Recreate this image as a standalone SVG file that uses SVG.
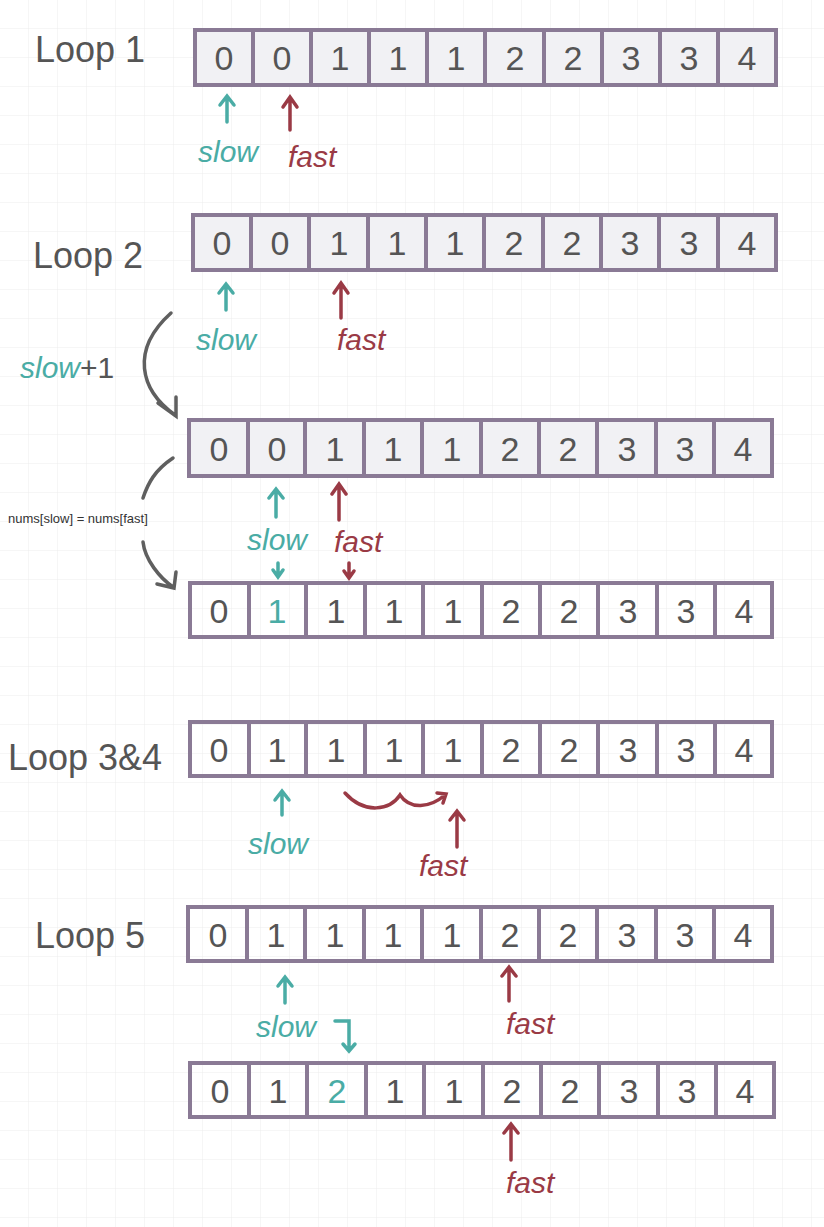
<svg xmlns="http://www.w3.org/2000/svg" width="824" height="1227" viewBox="0 0 824 1227">
<style>
.t{font-family:"Comic Neue","Liberation Sans",sans-serif}
.d{font-family:"Liberation Sans",sans-serif;font-size:34px;fill:#555;text-anchor:middle}
.lbl{font-family:"Liberation Sans",sans-serif;font-size:36px;fill:#555}
.sl{font-family:"Liberation Sans",sans-serif;font-size:30px;fill:#4aaca5;font-style:italic}
.fa{font-family:"Liberation Sans",sans-serif;font-size:30px;fill:#9a3a45;font-style:italic}
.box{fill:none;stroke:#8a7a95;stroke-width:4}
.sh{fill:#f1f1f4}
.tl{stroke:#4aaca5;stroke-width:3.5;fill:none;stroke-linecap:round}
.rd{stroke:#9a3a45;stroke-width:3.5;fill:none;stroke-linecap:round}
.gy{stroke:#5f5f5f;stroke-width:3.5;fill:none;stroke-linecap:round}
</style>
<defs>
<pattern id="g" width="29" height="29" patternUnits="userSpaceOnUse"><path d="M29 0V29H0" fill="none" stroke="#ececec" stroke-width="1"/></pattern>
</defs>
<rect width="824" height="1227" fill="#fff"/>
<rect width="824" height="1227" fill="url(#g)"/>
<g id="labels">
<text class="lbl" x="35" y="62">Loop 1</text>
<text class="lbl" x="33" y="268">Loop 2</text>
<text class="lbl" x="8" y="770">Loop 3&amp;4</text>
<text class="lbl" x="35" y="948">Loop 5</text>
</g>
<g id="row1"><rect class="sh" x="195" y="30" width="581" height="55"/><rect class="box" x="195" y="30" width="581" height="55"/>
<path class="box" d="M253 30V85M311 30V85M369 30V85M427 30V85M485 30V85M544 30V85M602 30V85M660 30V85M718 30V85"/>
<g class="d"><text x="224" y="70">0</text><text x="282" y="70">0</text><text x="340" y="70">1</text><text x="398" y="70">1</text><text x="456" y="70">1</text><text x="515" y="70">2</text><text x="573" y="70">2</text><text x="631" y="70">3</text><text x="689" y="70">3</text><text x="747" y="70">4</text></g></g>
<g id="row2"><rect class="sh" x="193" y="215" width="583" height="55"/><rect class="box" x="193" y="215" width="583" height="55"/>
<path class="box" d="M251 215V270M309 215V270M368 215V270M426 215V270M484 215V270M543 215V270M601 215V270M659 215V270M718 215V270"/>
<g class="d"><text x="222" y="255">0</text><text x="280" y="255">0</text><text x="339" y="255">1</text><text x="397" y="255">1</text><text x="455" y="255">1</text><text x="514" y="255">2</text><text x="572" y="255">2</text><text x="630" y="255">3</text><text x="689" y="255">3</text><text x="747" y="255">4</text></g></g>
<g id="row3"><rect class="sh" x="189" y="420" width="583" height="56"/><rect class="box" x="189" y="420" width="583" height="56"/>
<path class="box" d="M248 420V476M305 420V476M364 420V476M422 420V476M481 420V476M539 420V476M597 420V476M656 420V476M714 420V476"/>
<g class="d"><text x="219" y="461">0</text><text x="277" y="461">0</text><text x="335" y="461">1</text><text x="393" y="461">1</text><text x="452" y="461">1</text><text x="510" y="461">2</text><text x="568" y="461">2</text><text x="627" y="461">3</text><text x="685" y="461">3</text><text x="743" y="461">4</text></g></g>
<g id="row4"><rect class="box" x="190" y="583" width="582" height="54"/>
<path class="box" d="M249 583V637M306 583V637M365 583V637M423 583V637M482 583V637M540 583V637M598 583V637M657 583V637M715 583V637"/>
<g class="d"><text x="219" y="623">0</text><text x="277" y="623" fill="#4aaca5">1</text><text x="336" y="623">1</text><text x="394" y="623">1</text><text x="453" y="623">1</text><text x="511" y="623">2</text><text x="569" y="623">2</text><text x="628" y="623">3</text><text x="686" y="623">3</text><text x="744" y="623">4</text></g></g>
<g id="row5"><rect class="box" x="190" y="722" width="582" height="54"/>
<path class="box" d="M249 722V776M306 722V776M365 722V776M423 722V776M482 722V776M540 722V776M598 722V776M657 722V776M715 722V776"/>
<g class="d"><text x="219" y="762">0</text><text x="277" y="762">1</text><text x="336" y="762">1</text><text x="394" y="762">1</text><text x="453" y="762">1</text><text x="511" y="762">2</text><text x="569" y="762">2</text><text x="628" y="762">3</text><text x="686" y="762">3</text><text x="744" y="762">4</text></g></g>
<g id="row6"><rect class="box" x="188" y="907" width="584" height="54"/>
<path class="box" d="M247 907V961M305 907V961M364 907V961M422 907V961M481 907V961M539 907V961M597 907V961M656 907V961M714 907V961"/>
<g class="d"><text x="218" y="947">0</text><text x="276" y="947">1</text><text x="335" y="947">1</text><text x="393" y="947">1</text><text x="452" y="947">1</text><text x="510" y="947">2</text><text x="568" y="947">2</text><text x="627" y="947">3</text><text x="685" y="947">3</text><text x="743" y="947">4</text></g></g>
<g id="row7"><rect class="box" x="190" y="1063" width="584" height="54"/>
<path class="box" d="M249 1063V1117M307 1063V1117M366 1063V1117M424 1063V1117M483 1063V1117M541 1063V1117M599 1063V1117M658 1063V1117M716 1063V1117"/>
<g class="d"><text x="220" y="1103">0</text><text x="278" y="1103">1</text><text x="337" y="1103" fill="#4aaca5">2</text><text x="395" y="1103">1</text><text x="454" y="1103">1</text><text x="512" y="1103">2</text><text x="570" y="1103">2</text><text x="629" y="1103">3</text><text x="687" y="1103">3</text><text x="745" y="1103">4</text></g></g>
<g id="pointers">
<text class="sl" x="198" y="162">slow</text><text class="fa" x="288" y="167">fast</text>
<text class="sl" x="196" y="350">slow</text><text class="fa" x="337" y="350">fast</text>
<text class="sl" x="20" y="378">slow<tspan fill="#555" font-style="normal">+1</tspan></text>
<text x="8" y="523" font-family="Liberation Sans,sans-serif" font-size="13" fill="#333">nums[slow] = nums[fast]</text>
<text class="sl" x="247" y="550">slow</text><text class="fa" x="334" y="552">fast</text>
<text class="sl" x="248" y="854">slow</text><text class="fa" x="419" y="876">fast</text>
<text class="sl" x="256" y="1037">slow</text><text class="fa" x="506" y="1034">fast</text>
<text class="fa" x="506" y="1193">fast</text>
</g>
<g id="connectors">
<path class="tl" d="M227 122V97M220 105L227 96L234 105"/>
<path class="rd" d="M290 130V98M283 107L290 97L297 107"/>
<path class="tl" d="M226 310V285M219 293L226 284L233 293"/>
<path class="rd" d="M341 318V284M334 293L341 283L348 293"/>
<path class="tl" d="M276 517V490M269 498L276 489L283 498"/>
<path class="rd" d="M339 520V485M332 494L339 484L346 494"/>
<path class="tl" d="M278 563V575M273 570L278 577L283 570"/>
<path class="rd" d="M349 563V577M344 571L349 578L354 571"/>
<path class="gy" d="M171 313C130 350 140 390 175 415M158 403L176 416L176 397"/>
<path class="gy" d="M173 458C155 470 148 483 143 498"/>
<path class="gy" d="M143 542C145 560 160 578 173 587M157 584L174 588L176 572"/>
<path class="tl" d="M282 815V792M275 800L282 791L289 800"/>
<path class="rd" d="M345 793C365 815 390 810 400 795C410 810 430 808 445 795M437 793L446 794L443 803"/>
<path class="rd" d="M457 847V812M450 820L457 811L464 820"/>
<path class="tl" d="M285 1003V978M278 986L285 977L292 986"/>
<path class="rd" d="M509 1001V968M502 976L509 967L516 976"/>
<path class="tl" d="M335 1021H349V1050M343 1044L349 1051L355 1044"/>
<path class="rd" d="M511 1160V1125M504 1133L511 1124L518 1133"/>
</g>
</svg>
